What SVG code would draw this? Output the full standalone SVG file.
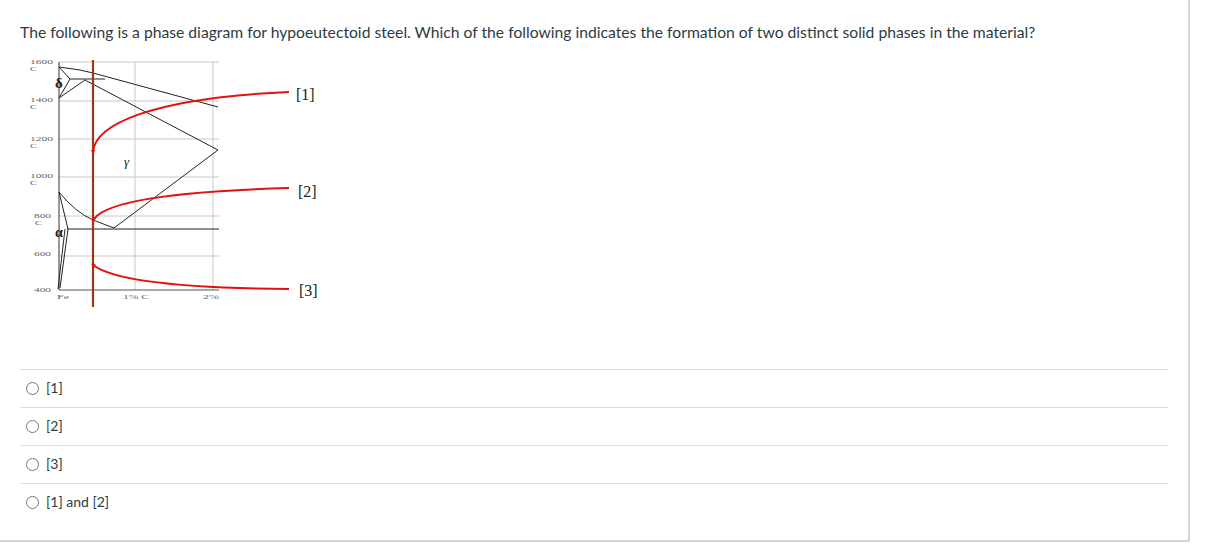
<svg xmlns="http://www.w3.org/2000/svg" width="1219" height="560" viewBox="0 0 1219 560">
<style>
.t{font-family:Lato,"Liberation Sans",sans-serif;fill:#2d3b45}
.ax{font-family:"Liberation Serif",serif;font-size:7px;fill:#666}
.grid{stroke:#c8c8c8;stroke-width:1;fill:none}
.ph{stroke:#222;stroke-width:1;fill:none}
.red{stroke:#e41010;stroke-width:2;fill:none}
.lab{font-family:"Liberation Serif",serif;font-size:16px;fill:#222}
.sep{stroke:#ddd;stroke-width:1}
.rad{fill:#fff;stroke:#777;stroke-width:1}
</style>
<defs>
<marker id="ah" viewBox="0 0 6 6" refX="3" refY="3" markerWidth="2.2" markerHeight="2.2" orient="auto-start-reverse"><path d="M0,0 L6,3 L0,6 z" fill="#e41010"/></marker>
</defs>
<rect x="0" y="0" width="1219" height="560" fill="#fff"/>
<rect x="-1" y="-1" width="1190" height="542" fill="none" stroke="#aaa" stroke-width="1"/>
<text class="t" x="20" y="38" font-size="15.7">The following is a phase diagram for hypoeutectoid steel. Which of the following indicates the formation of two distinct solid phases in the material?</text>
<g id="grid">
<line class="grid" x1="59" y1="62" x2="219" y2="62"/>
<line class="grid" x1="59" y1="101" x2="219" y2="101"/>
<line class="grid" x1="59" y1="139" x2="219" y2="139"/>
<line class="grid" x1="59" y1="177" x2="219" y2="177"/>
<line class="grid" x1="59" y1="216" x2="219" y2="216"/>
<line class="grid" x1="59" y1="256" x2="219" y2="256"/>
<line class="grid" x1="135" y1="62" x2="135" y2="290"/>
<line class="grid" x1="213" y1="62" x2="213" y2="290"/>
<line x1="59" y1="290" x2="219" y2="290" stroke="#555" stroke-width="1"/>
<line x1="59" y1="62" x2="59" y2="290" stroke="#333" stroke-width="1"/>
</g>
<g id="axis-labels">
<text class="ax" x="30" y="64" textLength="23" lengthAdjust="spacingAndGlyphs">1600</text><text class="ax" x="30" y="71" textLength="7" lengthAdjust="spacingAndGlyphs">C</text>
<text class="ax" x="30" y="102" textLength="23" lengthAdjust="spacingAndGlyphs">1400</text><text class="ax" x="30" y="109" textLength="7" lengthAdjust="spacingAndGlyphs">C</text>
<text class="ax" x="30" y="141" textLength="23" lengthAdjust="spacingAndGlyphs">1200</text><text class="ax" x="30" y="148" textLength="7" lengthAdjust="spacingAndGlyphs">C</text>
<text class="ax" x="30" y="178" textLength="23" lengthAdjust="spacingAndGlyphs">1000</text><text class="ax" x="30" y="185" textLength="7" lengthAdjust="spacingAndGlyphs">C</text>
<text class="ax" x="34" y="218" textLength="17" lengthAdjust="spacingAndGlyphs">800</text><text class="ax" x="35" y="225" textLength="7" lengthAdjust="spacingAndGlyphs">C</text>
<text class="ax" x="34" y="256" textLength="17" lengthAdjust="spacingAndGlyphs">600</text>
<text class="ax" x="34" y="292" textLength="17" lengthAdjust="spacingAndGlyphs">400</text>
<text class="ax" x="57" y="299" textLength="12" lengthAdjust="spacingAndGlyphs">Fe</text>
<text class="ax" x="123" y="299" textLength="26" lengthAdjust="spacingAndGlyphs">1% C</text>
<text class="ax" x="203" y="299" textLength="16" lengthAdjust="spacingAndGlyphs">2%</text>
</g>
<g id="phase-lines">
<path class="ph" d="M59,67 L80,70 L93,73 L218,107"/>
<path class="ph" d="M59,67 L70,79 L59,98 L85,80 L218,150 L114,228"/>
<line class="ph" x1="70" y1="79" x2="105" y2="79"/>
<path class="ph" d="M59,192 Q75,212 93,220 L114,228"/>
<line class="ph" x1="67" y1="229" x2="219" y2="229"/>
<path class="ph" d="M59,192 L68,229 L60,288"/>
<path class="ph" d="M65,229 L58,289"/>
<text x="55" y="88" font-family="Liberation Serif,serif" font-size="15" font-weight="bold" fill="#222">δ</text>
<text x="55" y="237" font-family="Liberation Serif,serif" font-size="14" font-weight="bold" fill="#222">α</text>
<text x="124" y="166" font-family="Liberation Serif,serif" font-size="13" font-style="italic" fill="#222">γ</text>
</g>
<line id="composition" x1="93" y1="60" x2="93" y2="307" stroke="#993a10" stroke-width="2.2"/>
<g id="connectors">
<path class="red" d="M289,92 C150,98 95,125 93,152" marker-end="url(#ah)"/>
<path class="red" d="M289,188 C150,192 100,205 93,221" marker-end="url(#ah)"/>
<path class="red" d="M289,289 C160,288 110,278 93,265" marker-end="url(#ah)"/>
</g>
<g id="label-1"><text class="lab" x="296" y="100">[1]</text></g>
<g id="label-2"><text class="lab" x="298" y="197">[2]</text></g>
<g id="label-3"><text class="lab" x="299" y="296">[3]</text></g>
<g id="options">
<line class="sep" x1="20" y1="369.5" x2="1168" y2="369.5"/>
<line class="sep" x1="20" y1="407.5" x2="1168" y2="407.5"/>
<line class="sep" x1="20" y1="445.5" x2="1168" y2="445.5"/>
<line class="sep" x1="20" y1="483.5" x2="1168" y2="483.5"/>
<g id="opt1"><circle class="rad" cx="32.5" cy="388.5" r="6"/><text class="t" x="46" y="393" font-size="14">[1]</text></g>
<g id="opt2"><circle class="rad" cx="32.5" cy="426.5" r="6"/><text class="t" x="46" y="431" font-size="14">[2]</text></g>
<g id="opt3"><circle class="rad" cx="32.5" cy="464.5" r="6"/><text class="t" x="46" y="469" font-size="14">[3]</text></g>
<g id="opt4"><circle class="rad" cx="32.5" cy="502.5" r="6"/><text class="t" x="46" y="507" font-size="14">[1] and [2]</text></g>
</g>
</svg>
